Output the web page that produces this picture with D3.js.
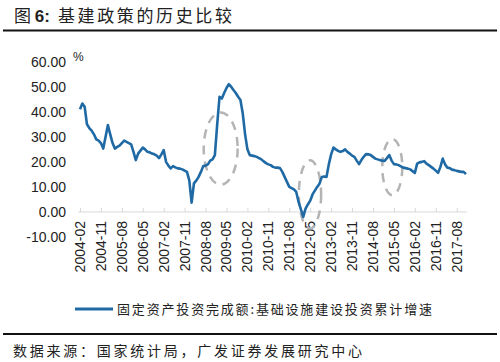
<!DOCTYPE html>
<html>
<head>
<meta charset="utf-8">
<script src="https://cdn.jsdelivr.net/npm/d3@7"></script>
<style>
  body { margin: 0; background: #fff; }
  svg { display: block; }
  text { font-family: "Liberation Sans", Arial, sans-serif; }
  .cjk { font-family: "Noto Sans CJK SC", sans-serif; }
</style>
</head>
<body>
<script>
const width = 500, height = 362;

// monthly series from 2004-02, cumulative yoy growth (%)
const startMonth = '2004-02';
const growth = [
  41, 43.3, 42, 35, 33.5, 32.5, 31, 29, 28.5, 27.5, 25.3, 30,
  34.7, 31, 27.5, 25.3, 26, 26.5, 27.5, 28.5, 28, 27.5, 27, 24,
  20.7, 23.3, 24.5, 25.7, 25, 24, 23.8, 23.3, 23, 22.5, 21.5, 23,
  24.7, 20, 18.5, 17.4, 18.3, 17.8, 17.4, 17.3, 17, 16.5, 16, 12.6,
  3.7, 11.4, 12.5, 14, 16, 18.3, 18.5, 19, 20.5, 21, 22.7, 35,
  46, 45.3, 47.5, 49.5, 51, 50, 48.7, 47.5, 46, 44.7, 39.3, 31,
  25, 22.7, 22.5, 22.3, 22, 21.5, 21, 20.2, 19.5, 19, 18.7, 18,
  17.7, 17.7, 17.5, 16, 14, 12, 10, 9.5, 9, 8, 4, 1,
  -2, 1.3, 3, 4.5, 7, 8.5, 10, 11.3, 14, 14.2, 14, 19,
  23, 25.7, 25, 24.4, 24, 24.3, 25, 24, 23.3, 22.5, 22, 20.5,
  19.1, 20.7, 22, 23.1, 23, 22.7, 22, 21.3, 21, 20.7, 20.5, 20.4,
  21.5, 22.7, 20.5, 19.1, 19, 18.7, 18.2, 17.7, 17.5, 17.3, 17, 16.3,
  15.6, 19.3, 19.8, 20, 20.3, 19.3, 18.7, 18, 17.3, 16.5, 15.6, 18,
  21.3, 19, 17.7, 17.5, 16.9, 16.7, 16.4, 16.2, 16, 16, 15.1
];
const yTicks = [-10, 0, 10, 20, 30, 40, 50, 60];
const tickStep = 9; // months between x labels

// annotation ellipses: centre month index, centre value, half-width (months), half-height (%)
const marks = [
  { m: 60.5, v: 25.3, rm: 7.3, rv: 14.4 },
  { m: 98.9, v: 7.0, rm: 4.8, rv: 13.6 },
  { m: 134.3, v: 17.9, rm: 4.3, rv: 11.2 }
];

const title = '基建政策的历史比较';
const seriesName = '固定资产投资完成额:基础设施建设投资累计增速';
const source = '数据来源：国家统计局，广发证券发展研究中心';

const parse = d3.timeParse('%Y-%m');
const fmt = d3.timeFormat('%Y-%m');
const t0 = parse(startMonth);
const months = growth.map((v, i) => d3.timeMonth.offset(t0, i));
const data = growth.map((v, i) => ({ t: months[i], i: i, v: v }));

const svg = d3.select('body').append('svg')
  .attr('width', width).attr('height', height);

// title
const tt = svg.append('text').attr('class', 'cjk')
  .attr('x', 14).attr('y', 22).attr('font-size', 17).attr('fill', '#222');
tt.append('tspan').text('图 ');
tt.append('tspan').attr('font-family', 'Liberation Sans, Arial').attr('font-weight', 'bold').text('6:');
tt.append('tspan').attr('dx', 8).text(title)
  .attr('textLength', 174).attr('lengthAdjust', 'spacing');

svg.append('line').attr('x1', 3).attr('x2', 497).attr('y1', 30.5).attr('y2', 30.5)
  .attr('stroke', '#111').attr('stroke-width', 2);

const x = d3.scaleLinear().domain([0, growth.length - 1]).range([80, 466]);
const xStep = (x(1) - x(0));
const y = d3.scaleLinear().domain([-10, 60]).range([237, 61.7]);

// y axis labels
svg.append('g').selectAll('text').data(yTicks).join('text')
  .attr('x', 66).attr('y', d => y(d)).attr('dy', '0.36em')
  .attr('text-anchor', 'end').attr('font-size', 14).attr('fill', '#222')
  .text(d => d.toFixed(2));

svg.append('text').attr('x', 73).attr('y', 61).attr('font-size', 12).attr('fill', '#222').text('%');

// x axis at zero
const xAxis = d3.axisTop(x)
  .tickValues(d3.range(0, growth.length, tickStep))
  .tickSize(4).tickFormat('');
const gx = svg.append('g').attr('transform', `translate(0,${y(0)})`).call(xAxis);
gx.select('.domain').attr('stroke', '#d9d9d9').attr('d', `M78,0H${x(growth.length - 1) + 1}`);
gx.selectAll('.tick line').attr('stroke', '#d9d9d9');

svg.append('g').selectAll('text').data(d3.range(0, growth.length, tickStep)).join('text')
  .attr('transform', i => `translate(${x(i) + 5},221) rotate(-90)`)
  .attr('text-anchor', 'end').attr('font-size', 14).attr('fill', '#222')
  .text(i => fmt(months[i]));

// ellipses
svg.append('g').selectAll('ellipse').data(marks).join('ellipse')
  .attr('cx', d => x(d.m)).attr('cy', d => y(d.v))
  .attr('rx', d => d.rm * xStep).attr('ry', d => y(0) - y(d.rv))
  .attr('fill', 'none').attr('stroke', '#b4b4b4').attr('stroke-width', 2.5)
  .attr('stroke-dasharray', '9,7');

// line
const line = d3.line().x(d => x(d.i)).y(d => y(d.v));
svg.append('path').datum(data).attr('d', line)
  .attr('fill', 'none').attr('stroke', '#1f6aa5').attr('stroke-width', 2.6)
  .attr('stroke-linejoin', 'round');

// legend
svg.append('line').attr('x1', 75).attr('x2', 113).attr('y1', 309).attr('y2', 309)
  .attr('stroke', '#1f6aa5').attr('stroke-width', 3);
svg.append('text').attr('class', 'cjk').attr('x', 117).attr('y', 314)
  .attr('font-size', 13).attr('fill', '#222')
  .attr('textLength', 315).attr('lengthAdjust', 'spacing').text(seriesName);

svg.append('line').attr('x1', 3).attr('x2', 497).attr('y1', 334).attr('y2', 334)
  .attr('stroke', '#111').attr('stroke-width', 2);

svg.append('text').attr('class', 'cjk').attr('x', 13).attr('y', 356)
  .attr('font-size', 14).attr('fill', '#222')
  .attr('textLength', 349).attr('lengthAdjust', 'spacing').text(source);
</script>
</body>
</html>
